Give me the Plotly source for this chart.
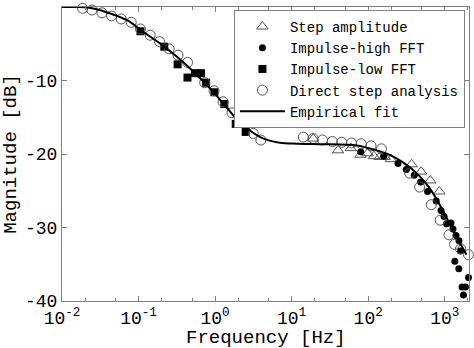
import plotly.graph_objects as go

# ---- data (frequency in Hz, magnitude in dB) ----
step_amp_f = [19.1, 40.4, 59.4, 79.4, 98.4, 119, 141, 164, 198, 369, 491, 647, 851]
step_amp_db = [-17.9, -19.5, -19.2, -20.1, -19.9, -20.3, -20.4, -20.4, -20.7, -21.4, -22.4, -23.6, -25.1]

imp_high_f = [79.8, 159, 245, 315, 400, 484, 597, 774, 895, 979, 1057, 1208, 1282, 1403,
              1535, 1607, 1355, 1528, 2042, 1683, 1866, 1758]
imp_high_db = [-19.7, -20.3, -21.3, -22.1, -22.9, -23.8, -25.1, -26.4, -27.7, -28.5, -29.5,
               -29.4, -30.2, -31.1, -31.8, -33.2, -34.6, -35.6, -36.8, -38.1, -38.1, -39.2]

imp_low_f = [0.106, 0.217, 0.324, 0.436, 0.547, 0.655, 0.764, 0.979, 1.32, 1.86, 2.51]
imp_low_db = [-3.3, -5.4, -7.8, -9.6, -9.0, -9.0, -10.3, -11.6, -13.2, -15.9, -17.0]

direct_f = [0.0186, 0.0246, 0.0333, 0.0444, 0.0593, 0.0802, 0.106, 0.142, 0.188, 0.251,
            0.328, 0.437, 0.731, 0.968, 1.27, 1.66, 2.11, 3.15, 3.96, 14.2, 19.1, 25.3,
            34.0, 45.2, 60.4, 81.1, 109, 149, 348, 469, 667, 873, 1138, 1343, 1607, 2042]
direct_db = [-0.18, -0.41, -0.79, -1.22, -1.63, -2.08, -2.99, -3.84, -4.72, -5.70, -6.55,
             -7.54, -10.3, -11.4, -12.9, -14.4, -14.9, -17.2, -18.1, -17.7, -17.9, -18.1,
             -18.3, -18.4, -18.5, -18.6, -18.9, -19.3, -22.6, -24.5, -26.9, -29.0, -31.0,
             -32.3, -32.9, -33.7]

fit_f = [0.01, 0.0173, 0.0256, 0.0427, 0.0710, 0.115, 0.191, 0.318, 0.471, 0.857, 1.27,
         1.93, 2.85, 4.22, 7.01, 11.7, 25.5, 70.8, 129, 191, 282, 429, 634, 935, 1265, 1923]
fit_db = [0.0, -0.01, -0.20, -0.88, -1.80, -3.37, -4.97, -6.78, -8.36, -11.07, -13.07,
          -15.31, -16.80, -17.88, -18.47, -18.60, -18.66, -18.83, -19.51, -20.12, -21.11,
          -22.60, -24.64, -27.58, -30.30, -33.69]

x_tickvals = [0.01, 0.1, 1, 10, 100, 1000]
x_ticktext = ["10<sup>-2</sup>", "10<sup>-1</sup>", "10<sup>0</sup>",
              "10<sup>1</sup>", "10<sup>2</sup>", "10<sup>3</sup>"]
y_tickvals = [-40, -30, -20, -10, 0]
y_ticktext = ["-40", "-30", "-20", "-10", "0"]
x_title = "Frequency [Hz]"
y_title = "Magnitude [dB]"

FONT = "Courier New, Liberation Mono, monospace"

fig = go.Figure()
fig.add_trace(go.Scatter(
    x=step_amp_f, y=step_amp_db, mode="markers", name="Step amplitude",
    marker=dict(symbol="triangle-up-open", size=10, color="#555555", line=dict(width=1)),
    cliponaxis=False))
fig.add_trace(go.Scatter(
    x=imp_high_f, y=imp_high_db, mode="markers", name="Impulse-high FFT",
    marker=dict(symbol="circle", size=7, color="black"), cliponaxis=False))
fig.add_trace(go.Scatter(
    x=imp_low_f, y=imp_low_db, mode="markers", name="Impulse-low FFT",
    marker=dict(symbol="square", size=8, color="black"), cliponaxis=False))
fig.add_trace(go.Scatter(
    x=direct_f, y=direct_db, mode="markers", name="Direct step analysis",
    marker=dict(symbol="circle-open", size=10, color="#555555", line=dict(width=1)),
    cliponaxis=False))
fig.add_trace(go.Scatter(
    x=fit_f, y=fit_db, mode="lines", name="Empirical fit",
    line=dict(color="black", width=2, shape="spline", smoothing=0.8)))

axis_common = dict(
    showline=True, linecolor="#808080", linewidth=1, mirror="ticks",
    ticks="inside", ticklen=5, tickcolor="#808080", showgrid=False, zeroline=False,
    tickfont=dict(family=FONT, size=18, color="black"),
)

fig.update_xaxes(
    type="log", range=[-2, 3.317], tickvals=x_tickvals, ticktext=x_ticktext,
    minor=dict(ticks="inside", ticklen=3, tickcolor="#808080", showgrid=False),
    **axis_common)
fig.update_yaxes(
    range=[-40, 0], tickvals=y_tickvals, ticktext=y_ticktext,
    title=dict(text=y_title, font=dict(family=FONT, size=19, color="black"),
               standoff=6),
    **axis_common)

fig.add_annotation(
    text=x_title, xref="paper", yref="paper", x=0.5, y=-0.126,
    xanchor="center", yanchor="middle", showarrow=False,
    font=dict(family=FONT, size=19, color="black"))

fig.update_layout(
    width=474, height=348,
    margin=dict(l=62, r=5, t=7, b=47, autoexpand=False),
    plot_bgcolor="white", paper_bgcolor="white",
    font=dict(family=FONT, color="black"),
    legend=dict(
        x=0.99, y=0.99, xanchor="right", yanchor="top",
        bgcolor="white", bordercolor="#808080", borderwidth=1,
        font=dict(family=FONT, size=14, color="black"),
        tracegroupgap=0, itemwidth=45,
    ),
    showlegend=True,
)

fig.write_html("out.html")
